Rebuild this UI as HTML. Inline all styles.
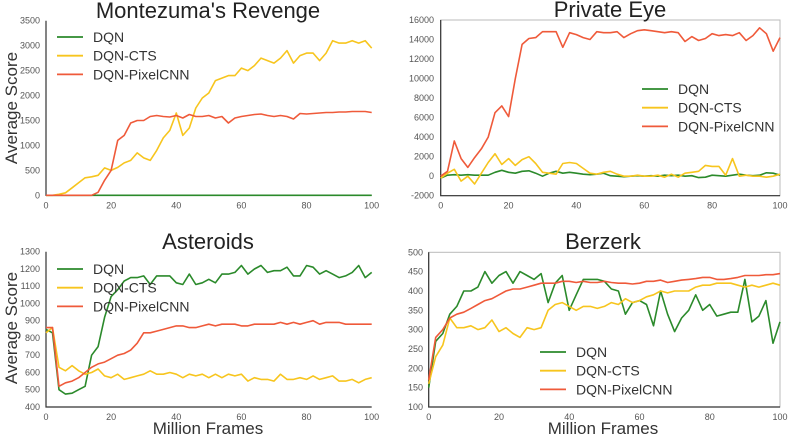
<!DOCTYPE html>
<html><head><meta charset="utf-8"><style>
html,body{margin:0;padding:0;background:#fff;}
svg{display:block;font-family:"Liberation Sans","DejaVu Sans",sans-serif;}
</style></head><body>
<svg id="chart" width="789" height="438" viewBox="0 0 789 438" xmlns="http://www.w3.org/2000/svg"></svg>
<script>
const frames = Array.from({length:51},(_,i)=>i*2);
const seriesNames = ["DQN","DQN-CTS","DQN-PixelCNN"];
const colors = ["#2b8a2b","#f7c51e","#ef5a3a"];

const montDQN = new Array(51).fill(0);
const montCTS = [0,0,20,50,150,250,350,370,400,550,500,560,650,700,850,750,700,900,1150,1300,1650,1200,1350,1750,1950,2050,2300,2350,2400,2400,2550,2500,2600,2750,2700,2650,2750,2900,2650,2800,2850,2850,2700,2850,3100,3050,3050,3100,3050,3100,2950];
const montPix = [0,0,0,0,0,0,0,0,60,300,500,1100,1200,1450,1500,1500,1580,1600,1580,1570,1600,1550,1620,1580,1580,1600,1550,1580,1450,1550,1580,1600,1620,1630,1600,1580,1600,1580,1530,1640,1630,1640,1650,1660,1660,1670,1670,1680,1680,1680,1660];
const montTicks = [0,500,1000,1500,2000,2500,3000,3500];

const pvtDQN = [-200,100,150,100,150,100,100,100,400,600,400,300,500,550,300,0,300,500,300,400,300,200,150,200,300,50,0,-50,0,50,0,50,0,100,50,100,0,50,-150,-100,100,50,0,100,200,100,50,100,350,300,100];
const pvtCTS = [-200,300,700,-500,0,-800,300,1400,2300,1200,1800,1100,1700,2000,1300,400,300,200,1300,1400,1300,800,300,200,400,500,200,0,0,100,0,0,100,-100,200,-100,300,400,500,1100,1000,1000,100,1800,0,100,0,0,-100,0,200];
const pvtPix = [0,500,3600,1800,900,1900,2800,4000,6500,7200,6100,10000,13500,14100,14200,14800,14800,14800,13200,14700,14500,14200,14000,14800,14700,14700,14800,14200,14600,14900,15000,14900,14800,14700,14800,14700,13800,14300,13900,14100,14600,14400,14500,14400,14700,13900,14400,15200,14600,12800,14200];
const pvtTicks = [-2000,0,2000,4000,6000,8000,10000,12000,14000,16000];

const astDQN = [850,830,500,475,480,500,520,700,750,920,1040,1080,1130,1150,1150,1160,1110,1160,1160,1160,1120,1110,1170,1110,1120,1140,1120,1170,1170,1180,1220,1170,1200,1220,1180,1190,1190,1210,1160,1160,1220,1210,1170,1190,1170,1150,1160,1180,1220,1150,1180];
const astCTS = [830,860,630,610,640,610,590,600,620,580,570,590,560,570,580,590,610,590,590,600,590,570,590,580,590,570,590,570,590,580,590,550,570,560,560,550,590,560,560,570,560,580,560,570,580,550,550,560,540,560,570];
const astPix = [860,860,520,540,550,570,600,630,650,660,680,700,710,730,770,830,830,840,850,860,870,870,860,860,870,880,870,880,880,880,870,870,880,880,880,880,890,880,890,880,890,900,880,890,890,890,880,880,880,880,880];
const astTicks = [400,500,600,700,800,900,1000,1100,1200,1300];

const berDQN = [150,270,290,340,360,400,400,410,450,420,440,450,420,450,440,430,445,370,420,440,350,390,430,430,430,425,405,400,340,370,375,365,310,400,340,295,330,350,390,350,365,335,340,345,345,430,320,335,375,265,320];
const berCTS = [160,230,260,330,305,305,310,300,305,325,295,305,290,280,305,300,305,350,365,370,360,350,360,360,355,360,370,365,380,370,375,385,390,400,395,400,400,400,410,415,415,420,420,420,415,410,415,410,415,420,415];
const berPix = [170,280,300,330,340,345,355,365,375,380,390,400,405,405,410,415,420,420,420,425,425,422,425,422,422,425,422,420,420,418,420,425,425,428,422,425,428,430,432,435,435,430,430,432,435,440,440,440,442,442,445];
const berTicks = [100,150,200,250,300,350,400,450,500];
const xTicks = [0,20,40,60,80,100];

const NS="http://www.w3.org/2000/svg";
const svg=document.getElementById('chart');
function mk(tag,attrs,parent){const e=document.createElementNS(NS,tag);for(const k in attrs)e.setAttribute(k,attrs[k]);(parent||svg).appendChild(e);return e;}

function panel(cfg){
  const g=mk('g',{});
  
  
  const xs=v=>cfg.x0+(v-0)/100*(cfg.x1-cfg.x0);
  const ys=v=>cfg.y0+(v-cfg.ymin)/(cfg.ymax-cfg.ymin)*(cfg.y1-cfg.y0);
  if(cfg.box){
    const r=mk('rect',{x:cfg.x0,y:cfg.y1,width:cfg.x1-cfg.x0,height:cfg.y0-cfg.y1,fill:'none',stroke:'#bbb','stroke-width':1},g);
    
    
  }
  const ax=mk('path',{d:`M${cfg.x0},${cfg.y1}V${cfg.y0}H${cfg.x1}`,fill:'none',stroke:'#333','stroke-width':1.2},g);
  
  
  cfg.yt.forEach(v=>{
    const t=mk('text',{x:cfg.ylx,y:ys(v)+3,'text-anchor':'end','font-size':9,fill:'#555'},g);
    t.textContent=v;
    
    
  });
  xTicks.forEach(v=>{
    const t=mk('text',{x:xs(v),y:cfg.y0+13,'text-anchor':'middle','font-size':9,fill:'#555'},g);
    t.textContent=v;
    
    
  });
  cfg.series.forEach((s,i)=>{
    const d=s.map((v,j)=>(j?'L':'M')+xs(frames[j]).toFixed(1)+','+ys(v).toFixed(1)).join('');
    const p=mk('path',{d:d,fill:'none',stroke:colors[i],'stroke-width':1.6,'stroke-linejoin':'round'},g);
    
    
  });
  const title=mk('text',{x:cfg.tx,y:cfg.ty,'text-anchor':'middle','font-size':22,fill:'#222'},g);
  title.textContent=cfg.title;
  
  
  seriesNames.forEach((n,i)=>{
    const yy=cfg.ly+i*18.7;
    const l=mk('line',{x1:cfg.lx,x2:cfg.lx+26,y1:yy,y2:yy,stroke:colors[i],'stroke-width':1.8},g);
    
    
    const t=mk('text',{x:cfg.lx+36,y:yy+5,'font-size':14,fill:'#333'},g);
    t.textContent=n;
    
    
  });
}

panel({key:'montezuma',title:"Montezuma's Revenge",x0:46,x1:371.7,y0:195.3,y1:20.7,ymin:0,ymax:3500,yt:montTicks,ylx:40,box:false,tx:208,ty:18,lx:57,ly:37,series:[montDQN,montCTS,montPix]});
panel({key:'private-eye',title:"Private Eye",x0:440.7,x1:780,y0:195.7,y1:20,ymin:-2000,ymax:16000,yt:pvtTicks,ylx:434,box:true,tx:610,ty:17,lx:642,ly:89,series:[pvtDQN,pvtCTS,pvtPix]});
panel({key:'asteroids',title:"Asteroids",x0:46,x1:371.7,y0:407,y1:251.7,ymin:400,ymax:1300,yt:astTicks,ylx:40,box:false,tx:208,ty:249,lx:57,ly:269,series:[astDQN,astCTS,astPix]});
panel({key:'berzerk',title:"Berzerk",x0:428.7,x1:780,y0:407,y1:252.3,ymin:100,ymax:500,yt:berTicks,ylx:423,box:true,tx:603,ty:249,lx:540,ly:352,series:[berDQN,berCTS,berPix]});

[[108,'montezuma'],[328,'asteroids']].forEach(([cy,k])=>{
  const t=mk('text',{x:0,y:0,'text-anchor':'middle','font-size':17,fill:'#333',transform:`translate(17,${cy}) rotate(-90)`});
  t.textContent='Average Score';
  
  
});
[[208,'asteroids'],[603,'berzerk']].forEach(([cx,k])=>{
  const t=mk('text',{x:cx,y:434,'text-anchor':'middle','font-size':17,fill:'#333'});
  t.textContent='Million Frames';
  
  
});
</script>
</body></html>
